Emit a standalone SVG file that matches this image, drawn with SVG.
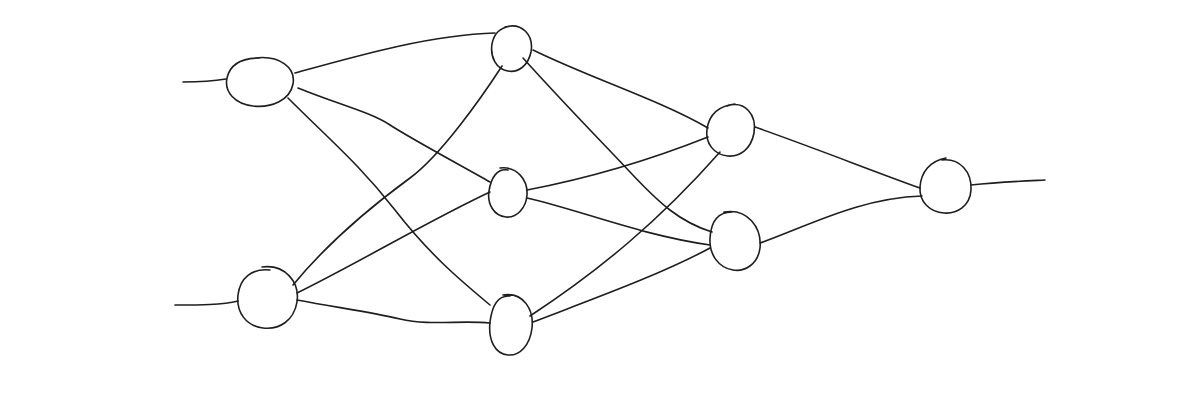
<svg xmlns="http://www.w3.org/2000/svg" width="1200" height="400" viewBox="0 0 1200 400">
<style>
.n{fill:none;stroke:#1e1e1e;stroke-width:1.6;stroke-linecap:round;stroke-linejoin:round}
.e{fill:none;stroke:#1e1e1e;stroke-width:1.6;stroke-linecap:round}
</style>
<rect width="1200" height="400" fill="#ffffff"/>
<g id="connectors">
<path class="e" d="M183,82 C200,82 214,81 226,79"/>
<path class="e" d="M175,305 C200,305 222,305 238,301"/>
<path class="e" d="M971,185 C1000,182 1025,181 1045,180"/>
<path class="e" d="M295,73 C360,55 430,35 495,33"/>
<path class="e" d="M298,88 C340,105 370,112 390,125 S460,165 490,182"/>
<path class="e" d="M288,98 C330,140 360,165 395,210 S460,280 490,305"/>
<path class="e" d="M293,285 C330,240 380,200 410,178 S480,100 502,66"/>
<path class="e" d="M297,293 C360,262 430,220 490,192"/>
<path class="e" d="M297,300 C340,308 370,312 400,319 S460,320 490,323"/>
<path class="e" d="M533,50 C590,78 660,100 708,128"/>
<path class="e" d="M523,58 C570,110 600,140 630,172 S680,222 712,232"/>
<path class="e" d="M527,190 C590,178 650,160 708,137"/>
<path class="e" d="M527,198 C580,210 640,235 710,245"/>
<path class="e" d="M530,316 C600,270 660,220 720,152"/>
<path class="e" d="M533,322 C590,300 660,275 710,248"/>
<path class="e" d="M755,127 C820,150 870,170 920,188"/>
<path class="e" d="M760,243 C810,225 860,198 922,196"/>
</g>
<g id="node-in1"><path class="n" d="M255,58 C280,55 296,68 293,84 C290,100 272,108 253,106 C235,104 224,92 227,78 C230,64 243,58 260,58"/></g>
<g id="node-in2"><path class="n" d="M262,267 C285,264 300,282 297,302 C294,320 280,330 263,328 C246,326 236,312 238,295 C240,278 252,268 270,270"/></g>
<g id="node-h1a"><path class="n" d="M505,27 C522,22 534,35 531,52 C528,66 518,73 508,71 C496,69 490,57 492,44 C494,33 500,27 512,26"/></g>
<g id="node-h1b"><path class="n" d="M500,168 C517,166 528,180 527,195 C526,208 517,218 506,217 C494,216 487,204 489,191 C491,178 497,168 508,170"/></g>
<g id="node-h1c"><path class="n" d="M503,295 C524,292 534,310 532,328 C530,345 520,356 508,355 C495,354 488,340 490,322 C492,306 498,295 510,296"/></g>
<g id="node-h2a"><path class="n" d="M727,106 C745,100 757,115 754,133 C751,149 740,157 728,156 C714,155 705,143 707,129 C709,116 717,106 735,104"/></g>
<g id="node-h2b"><path class="n" d="M724,212 C748,208 762,228 760,248 C758,264 745,272 733,270 C719,268 709,255 710,238 C711,222 718,212 732,212"/></g>
<g id="node-out"><path class="n" d="M942,160 C960,158 972,172 971,190 C970,206 957,214 944,213 C930,212 919,202 920,187 C921,172 930,161 946,158"/></g>
</svg>
